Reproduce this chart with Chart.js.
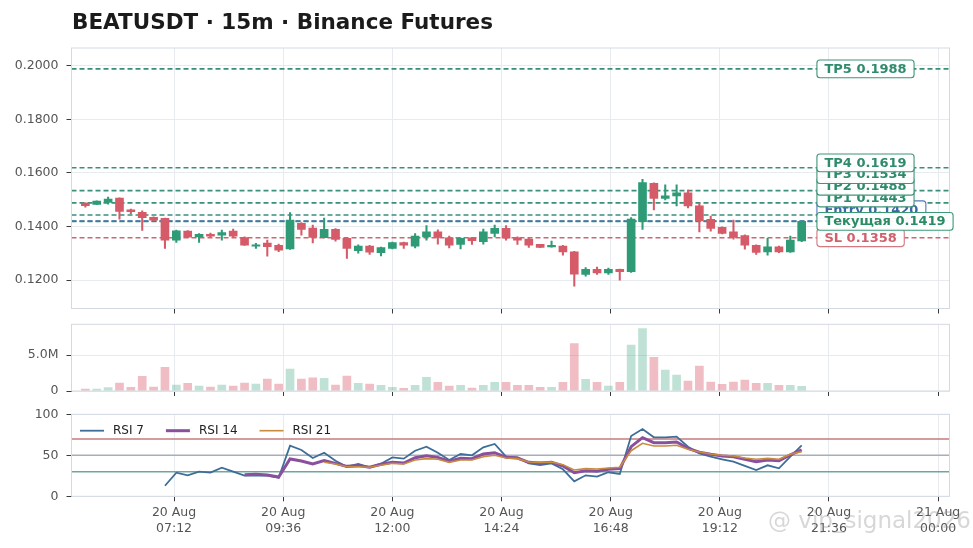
<!DOCTYPE html>
<html><head><meta charset="utf-8">
<script src="https://cdn.jsdelivr.net/npm/chart.js@4.4.1/dist/chart.umd.min.js"></script>
<style>
html,body{margin:0;padding:0;background:#fff;}
#wrap{position:relative;width:973px;height:548px;overflow:hidden;background:#fff;}
#wrap canvas{position:absolute;left:0;top:0;}
#title{position:absolute;left:72px;top:10.5px;font:bold 21.5px 'DejaVu Sans',sans-serif;line-height:1;color:#1b1b1b;white-space:nowrap;}
#wm{position:absolute;left:768px;top:509px;font:23px 'DejaVu Sans',sans-serif;line-height:1;color:rgba(150,150,150,0.38);white-space:nowrap;}
</style></head><body>
<div id="wrap">
<canvas id="cMain" width="973" height="548"></canvas>
<canvas id="cVol" width="973" height="548"></canvas>
<canvas id="cRsi" width="973" height="548"></canvas>
<div id="title">BEATUSDT · 15m · Binance Futures</div>
<div id="wm">@ vip_signal2026</div>
</div>
<script>
// ---------- DATA ----------
const candleDate = '20 Aug';
const times = ['05:15','05:30','05:45','06:00','06:15','06:30','06:45','07:00','07:15','07:30','07:45','08:00','08:15','08:30','08:45','09:00',
'09:15','09:30','09:45','10:00','10:15','10:30','10:45','11:00','11:15','11:30','11:45','12:00','12:15','12:30','12:45','13:00',
'13:15','13:30','13:45','14:00','14:15','14:30','14:45','15:00','15:15','15:30','15:45','16:00','16:15','16:30','16:45','17:00',
'17:15','17:30','17:45','18:00','18:15','18:30','18:45','19:00','19:15','19:30','19:45','20:00','20:15','20:30','20:45','21:00'];
const open  = [.1487,.1482,.1490,.1506,.1462,.1453,.1434,.1430,.1349,.1383,.1361,.1371,.1368,.1383,.1359,.1327,
.1338,.1330,.1316,.1412,.1394,.1358,.1389,.1356,.1310,.1327,.1302,.1318,.1340,.1327,.1361,.1380,
.1358,.1333,.1358,.1343,.1374,.1393,.1358,.1353,.1333,.1324,.1327,.1305,.1221,.1240,.1227,.1240,
.1231,.1418,.1561,.1505,.1514,.1526,.1477,.1427,.1397,.1380,.1366,.1330,.1305,.1324,.1305,.1346];
const high  = [.1488,.1496,.1510,.1507,.1465,.1458,.1436,.1431,.1387,.1385,.1374,.1375,.1387,.1390,.1361,.1337,
.1349,.1334,.1452,.1415,.1405,.1431,.1392,.1358,.1332,.1330,.1323,.1342,.1342,.1374,.1403,.1388,
.1364,.1358,.1360,.1390,.1405,.1403,.1361,.1356,.1333,.1346,.1330,.1307,.1247,.1249,.1245,.1241,
.1433,.1576,.1563,.1555,.1555,.1536,.1487,.1439,.1399,.1424,.1369,.1332,.1356,.1327,.1364,.1420];
const low   = [.1472,.1481,.1483,.1427,.1448,.1385,.1421,.1318,.1341,.1358,.1341,.1362,.1349,.1360,.1329,.1318,
.1289,.1306,.1314,.1368,.1339,.1357,.1345,.1281,.1300,.1296,.1290,.1316,.1318,.1320,.1349,.1334,
.1320,.1316,.1333,.1334,.1361,.1349,.1333,.1322,.1321,.1323,.1293,.1177,.1215,.1221,.1221,.1200,
.1229,.1389,.1462,.1499,.1477,.1469,.1380,.1383,.1372,.1353,.1315,.1296,.1293,.1302,.1303,.1343];
const close = [.1478,.1495,.1502,.1456,.1455,.1433,.1424,.1349,.1384,.1360,.1371,.1364,.1377,.1364,.1330,.1332,
.1325,.1312,.1424,.1389,.1359,.1389,.1352,.1318,.1327,.1304,.1321,.1340,.1330,.1364,.1380,.1359,
.1330,.1356,.1347,.1380,.1393,.1356,.1349,.1330,.1322,.1330,.1305,.1222,.1240,.1227,.1240,.1231,
.1428,.1564,.1505,.1514,.1526,.1477,.1421,.1393,.1374,.1359,.1330,.1303,.1324,.1305,.1349,.1419];
// volume, millions
const volume = [0.28,0.28,0.46,1.11,0.51,2.04,0.56,3.29,0.83,1.06,0.69,0.56,0.83,0.69,1.11,0.97,
1.67,0.97,3.06,1.67,1.85,1.76,0.83,2.08,1.06,0.97,0.79,0.51,0.37,0.79,1.90,1.20,
0.69,0.79,0.42,0.79,1.20,1.20,0.79,0.79,0.51,0.51,1.20,6.62,1.62,1.20,0.69,1.20,
6.39,8.71,4.68,2.92,2.22,1.39,3.47,1.25,0.93,1.25,1.53,1.06,1.06,0.79,0.79,0.65];
const rsi7 = [null,null,null,null,null,null,null,12.9,28.8,25.6,30.0,28.8,34.9,30.0,25.1,25.6,
25.1,22.7,61.7,56.5,46.7,53.2,43.4,36.1,39.4,35.4,39.8,47.5,45.9,55.6,60.5,53.2,
44.3,51.6,50.0,59.7,63.8,48.3,47.5,40.2,38.2,40.2,32.9,18.3,25.6,23.9,29.3,27.2,
73.5,82.1,71.9,71.9,72.7,60.5,52.4,48.3,45.1,42.2,37.0,32.1,37.8,34.1,48.3,62.2];
const rsi14 = [null,null,null,null,null,null,null,null,null,null,null,null,null,null,26.4,26.8,
26.0,23.5,45.5,43.0,39.4,43.5,40.2,36.5,37.4,35.4,39.0,41.4,40.6,47.1,49.5,47.5,
42.7,46.3,45.9,51.6,53.2,47.5,46.7,41.4,40.6,41.4,37.0,28.8,31.2,30.5,32.9,33.7,
60.5,71.5,65.4,65.4,66.2,58.5,53.7,51.2,49.1,48.3,45.1,42.2,44.3,43.4,50.4,56.5];
const rsi21 = [null,null,null,null,null,null,null,null,null,null,null,null,null,null,null,null,
null,null,null,null,null,41.5,39.4,36.0,36.1,35.4,37.8,40.2,39.4,44.3,45.9,45.1,
41.4,44.3,44.3,48.3,50.0,46.7,45.9,41.8,41.4,41.8,38.6,32.1,33.7,33.3,34.5,35.4,
55.6,64.6,61.3,61.3,62.2,57.3,54.1,51.6,50.0,49.1,46.7,45.1,46.3,45.1,51.2,54.5];
const rsiNames = ['RSI 7','RSI 14','RSI 21'];
const rsiLevels = [70, 50, 30];
const priceTicks = [0.12, 0.14, 0.16, 0.18, 0.20];
const volumeTicks = [0, 5];
const rsiTicks = [0, 50, 100];
const xTickDates = ['20 Aug','20 Aug','20 Aug','20 Aug','20 Aug','20 Aug','20 Aug','21 Aug'];
const xTickTimes = ['07:12','09:36','12:00','14:24','16:48','19:12','21:36','00:00'];
const levelNames  = ['SL','Entry','Текущая','TP1','TP2','TP3','TP4','TP5'];
const levelValues = [0.1358, 0.1420, 0.1419, 0.1443, 0.1488, 0.1534, 0.1619, 0.1988];

// ---------- HELPERS ----------
Chart.defaults.font.family = "'DejaVu Sans', sans-serif";
Chart.defaults.animation = false;
const FONT = "'DejaVu Sans', sans-serif";
function mins(t){ const [h,m]=t.split(':').map(Number); return h*60+m; }
const t0 = mins(times[0]);
function toIdx(date, t){ return (mins(t) + (date===candleDate?0:1440) - t0)/15; }
const xIdx = times.map(t=>toIdx(candleDate,t));
const xTickPos = xTickTimes.map((t,i)=>toIdx(xTickDates[i],t));
const X_MIN = -1.22, X_MAX = 76;
const UP='#2e9b76', DOWN='#d65b68';
const dir = open.map((o,i)=> close[i]>=o);
const GRID='#e7ebef', TICKC='#3a3a3a', LBL='#555';

function xAxis(showLabels){
  return {
    type:'linear', min:X_MIN, max:X_MAX, offset:false,
    afterBuildTicks: s => { s.ticks = xTickPos.map(v=>({value:v})); },
    afterFit: s => { s.height = showLabels ? 40 : 10; },
    grid:{color:GRID, lineWidth:1, offset:false, drawTicks:true, tickLength:5, tickColor:TICKC, tickWidth:1},
    border:{display:false},
    ticks:{display:showLabels, autoSkip:false, maxRotation:0, minRotation:0, padding:4, color:LBL,
      font:{size:12.5, lineHeight:1.23}, callback:(v,i)=>[xTickDates[i], xTickTimes[i]]}
  };
}
function yAxis(min,max,tickVals,fmt){
  return {
    type:'linear', min, max,
    afterBuildTicks: s => { s.ticks = tickVals.map(v=>({value:v})); },
    afterFit: s => { s.width = 60; },
    grid:{color:GRID, lineWidth:1, drawTicks:true, tickLength:5, tickColor:TICKC, tickWidth:1},
    border:{display:false},
    ticks:{padding:8, color:LBL, font:{size:12.5}, callback:v=>fmt(v)}
  };
}
const frame = { id:'frame', afterDatasetsDraw(c){ const a=c.chartArea, g=c.ctx; g.save(); g.strokeStyle='#d3dae1'; g.lineWidth=1; g.strokeRect(a.left,a.top,a.right-a.left,a.bottom-a.top); g.restore(); } };
const basePlugins = { legend:{display:false}, title:{display:false}, tooltip:{enabled:false} };

// ---------- MAIN (price) ----------
function levelStyle(name){
  if (name.startsWith('TP')) return {line:'#3a8f7a', text:'#2e8b6c', border:'#3f9479'};
  if (name==='Entry') return {line:'#4a72b0', text:'#3d66a6', border:'#5279b6'};
  if (name==='SL') return {line:'#cc6670', text:'#d0606b', border:'#d27a82'};
  return {line:'#2c9670', text:'#2a8b65', border:'#3a9a74'};
}
const levelDatasets = levelNames.map((n,i)=>{
  const st = levelStyle(n);
  return {type:'line', data:[{x:X_MIN,y:levelValues[i]},{x:X_MAX,y:levelValues[i]}], borderColor:st.line,
    borderWidth:1.6, borderDash:[5,3], pointRadius:0, order:5};
});
const levelLabels = {
  id:'levelLabels',
  afterDatasetsDraw(c){
    const g=c.ctx, ys=c.scales.y, xs=c.scales.x;
    const idx = levelValues.map((v,i)=>i).sort((a,b)=>levelValues[a]-levelValues[b]);
    const pos = []; let prev = Infinity;
    idx.forEach(i=>{ let p = ys.getPixelForValue(levelValues[i]); p = Math.min(p, prev-11.7); pos[i]=p; prev=p; });
    const xText = xs.getPixelForValue(xIdx[xIdx.length-1]+2);
    g.save();
    g.font = "bold 13px "+FONT; g.textBaseline='middle';
    levelNames.forEach((n,i)=>{
      const st = levelStyle(n);
      const txt = n+' '+levelValues[i].toFixed(4);
      const w = g.measureText(txt).width;
      const bx = xText-7.5, bw = w+15, bh = 17.7, by = pos[i]-bh/2;
      g.beginPath(); g.roundRect(bx,by,bw,bh,3);
      g.fillStyle='rgba(255,255,255,0.95)'; g.fill();
      g.lineWidth=1.1; g.strokeStyle=st.border; g.stroke();
      g.fillStyle=st.text; g.fillText(txt, xText, pos[i]+0.5);
    });
    g.restore();
  }
};
new Chart(document.getElementById('cMain'), {
  type:'bar',
  data:{ datasets:[
    ...levelDatasets,
    {type:'bar', data:xIdx.map((x,i)=>({x, y:[low[i],high[i]]})), backgroundColor:dir.map(u=>u?UP:DOWN),
      barThickness:1.4, grouped:false, order:2},
    {type:'bar', data:xIdx.map((x,i)=>({x, y:[open[i],close[i]]})), backgroundColor:dir.map(u=>u?UP:DOWN),
      barThickness:8, grouped:false, minBarLength:1.2, order:1}
  ]},
  options:{ responsive:false, animation:false, events:[],
    layout:{padding:{left:11.5, right:23.5, top:48, bottom:229.5}},
    scales:{ x:xAxis(false), y:yAxis(0.1094, 0.2066, priceTicks, v=>v.toFixed(4)) },
    plugins:basePlugins },
  plugins:[frame, levelLabels]
});

// ---------- VOLUME ----------
new Chart(document.getElementById('cVol'), {
  type:'bar',
  data:{ datasets:[
    {data:xIdx.map((x,i)=>({x, y:volume[i]})), backgroundColor:dir.map(u=>u?'rgba(46,155,118,0.3)':'rgba(214,91,104,0.4)'),
      barThickness:8, grouped:false}
  ]},
  options:{ responsive:false, animation:false, events:[],
    layout:{padding:{left:11.5, right:23.5, top:324.3, bottom:147}},
    scales:{ x:xAxis(false), y:yAxis(0, 9.3, volumeTicks, v=> v===0?'0':v.toFixed(1)+'M') },
    plugins:basePlugins },
  plugins:[frame]
});

// ---------- RSI ----------
const rsiColors = ['#3d6e98','#8a4f9d','#c98b3e'];
const rsiWidths = [1.8, 3, 1.6];
const levelRsiColors = ['#c47c7c','#a8aeb6','#6ea79f'];
const rsiSeries = [rsi7, rsi14, rsi21];
const rsiLegend = {
  id:'rsiLegend',
  afterDatasetsDraw(c){
    const g=c.ctx, a=c.chartArea;
    g.save(); g.font="12px "+FONT; g.textBaseline='middle';
    let x = a.left+8.5; const y = a.top+16.4;
    rsiNames.forEach((n,i)=>{
      g.strokeStyle=rsiColors[i]; g.lineWidth=rsiWidths[i]; g.beginPath(); g.moveTo(x,y); g.lineTo(x+24,y); g.stroke();
      g.fillStyle='#222'; g.fillText(n, x+33, y+0.5);
      x += 33 + g.measureText(n).width + 22;
    });
    g.restore();
  }
};
new Chart(document.getElementById('cRsi'), {
  type:'line',
  data:{ datasets:[
    ...rsiLevels.map((v,i)=>({data:[{x:X_MIN,y:v},{x:X_MAX,y:v}], borderColor:levelRsiColors[i], borderWidth:1.5, pointRadius:0, order:5})),
    ...rsiSeries.map((s,k)=>({data:xIdx.map((x,i)=>({x, y:s[i]})), borderColor:rsiColors[k], borderWidth:rsiWidths[k],
      pointRadius:0, tension:0, spanGaps:false, order:3-k}))
  ]},
  options:{ responsive:false, animation:false, events:[],
    layout:{padding:{left:11.5, right:23.5, top:414.3, bottom:11.7}},
    scales:{ x:xAxis(true), y:yAxis(0, 100, rsiTicks, v=>String(v)) },
    plugins:basePlugins },
  plugins:[frame, rsiLegend]
});
</script>
</body></html>
